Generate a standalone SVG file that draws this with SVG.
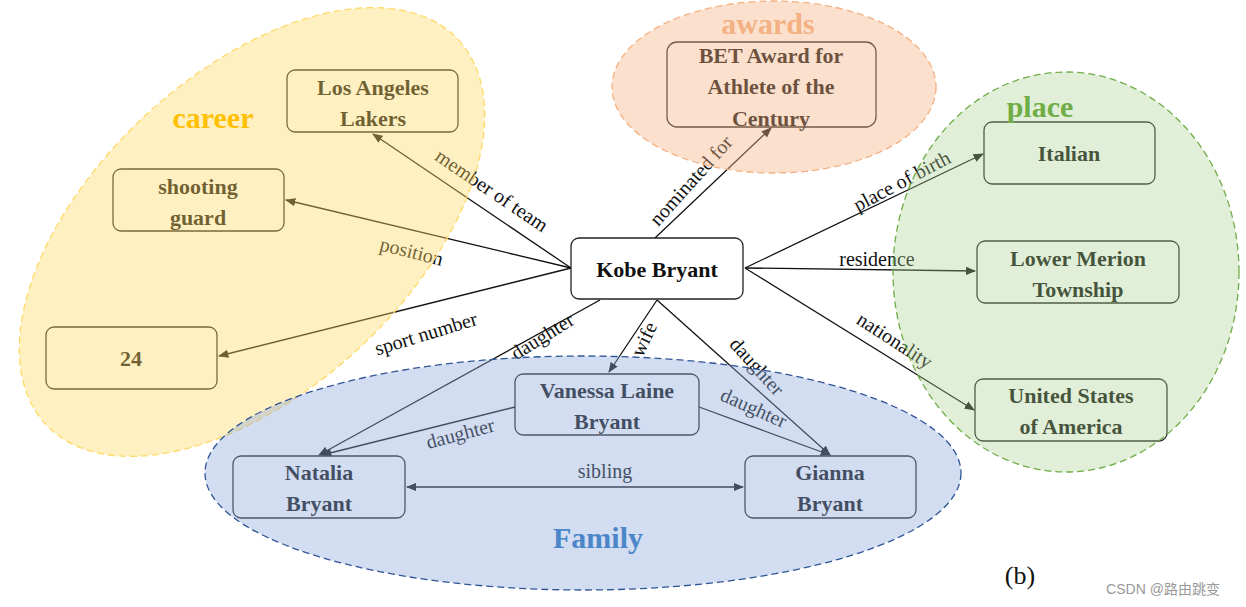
<svg xmlns="http://www.w3.org/2000/svg" width="1246" height="607" viewBox="0 0 1246 607">
<style>
text{font-family:"Liberation Serif","Times New Roman",serif}
.n rect{fill:#fff;stroke:#222;stroke-width:1.3}
.n text{font-size:22px;font-weight:bold;text-anchor:middle;fill:#111}
.e line{stroke:#111;stroke-width:1.3;marker-end:url(#a)}
.l{font-size:20px;fill:#111;text-anchor:middle}
.g{stroke-dasharray:7 4;stroke-width:1.3}
.t{font-size:30px;font-weight:bold;text-anchor:middle}
</style>
<defs><marker id="a" viewBox="0 0 10 10" refX="9" refY="5" markerWidth="8" markerHeight="8" orient="auto-start-reverse"><path d="M0,1L10,5L0,9z" fill="#111"/></marker></defs>
<rect width="1246" height="607" fill="#fff"/>
<g id="connectors" class="e">
<line x1="571" y1="268" x2="373" y2="134"/>
<line x1="571" y1="268" x2="286" y2="200"/>
<line x1="571" y1="268" x2="219" y2="356"/>
<line x1="655" y1="238" x2="771" y2="128"/>
<line x1="745" y1="268" x2="983" y2="154"/>
<line x1="745" y1="268" x2="975" y2="271"/>
<line x1="745" y1="268" x2="974" y2="410"/>
<line x1="657" y1="300" x2="609" y2="372"/>
<line x1="657" y1="300" x2="830" y2="455"/>
<line x1="600" y1="300" x2="319" y2="455"/>
<line x1="515" y1="407" x2="322" y2="455"/>
<line x1="699" y1="407" x2="830" y2="455"/>
<line x1="407" y1="487" x2="743" y2="487" style="marker-start:url(#a)"/>
</g>
<g id="edge-labels" class="l">
<text transform="translate(488,196) rotate(34)">member of team</text>
<text transform="translate(410,258) rotate(14)">position</text>
<text transform="translate(428,340) rotate(-17)">sport number</text>
<text transform="translate(696,185) rotate(-48)">nominated for</text>
<text transform="translate(905,187) rotate(-28)">place of birth</text>
<text x="877" y="266">residence</text>
<text transform="translate(891,346) rotate(33)">nationality</text>
<text transform="translate(546,342) rotate(-32)">daughter</text>
<text transform="translate(650,342) rotate(-65)">wife</text>
<text transform="translate(752,371) rotate(48)">daughter</text>
<text transform="translate(751,414) rotate(24)">daughter</text>
<text transform="translate(462,440) rotate(-15)">daughter</text>
<text x="605" y="478">sibling</text>
</g>
<g class="n">
<g id="lakers"><rect x="287" y="70" width="171" height="62" rx="8"/><text x="373" y="95">Los Angeles</text><text x="373" y="126">Lakers</text></g>
<g id="shooting"><rect x="113" y="169" width="171" height="62" rx="8"/><text x="198" y="194">shooting</text><text x="198" y="225">guard</text></g>
<g id="n24"><rect x="46" y="327" width="171" height="62" rx="8"/><text x="131" y="366">24</text></g>
<g id="bet"><rect x="667" y="42" width="209" height="85" rx="10"/><text x="771" y="63">BET Award for</text><text x="771" y="94">Athlete of the</text><text x="771" y="126">Century</text></g>
<g id="kobe"><rect x="571" y="238" width="172" height="61" rx="8"/><text x="657" y="277">Kobe Bryant</text></g>
<g id="italian"><rect x="984" y="122" width="171" height="62" rx="8"/><text x="1069" y="161">Italian</text></g>
<g id="merion"><rect x="977" y="241" width="202" height="62" rx="8"/><text x="1078" y="266">Lower Merion</text><text x="1078" y="297">Township</text></g>
<g id="usa"><rect x="975" y="379" width="192" height="62" rx="8"/><text x="1071" y="403">United States</text><text x="1071" y="434">of America</text></g>
<g id="vanessa"><rect x="515" y="374" width="184" height="61" rx="8"/><text x="607" y="398">Vanessa Laine</text><text x="607" y="429">Bryant</text></g>
<g id="natalia"><rect x="233" y="456" width="172" height="62" rx="8"/><text x="319" y="480">Natalia</text><text x="319" y="511">Bryant</text></g>
<g id="gianna"><rect x="745" y="456" width="171" height="62" rx="8"/><text x="830" y="480">Gianna</text><text x="830" y="511">Bryant</text></g>
</g>
<g id="groups">
<ellipse class="g" cx="252" cy="232" rx="282" ry="158" transform="rotate(-43 252 232)" fill="#FFD966" fill-opacity="0.4" stroke="#FFD966"/>
<ellipse class="g" cx="774" cy="87" rx="162" ry="86" fill="#F4B183" fill-opacity="0.4" stroke="#F4B183"/>
<ellipse class="g" cx="1066" cy="272" rx="173" ry="200" fill="#A9D18E" fill-opacity="0.35" stroke="#70AD47"/>
<ellipse class="g" cx="583" cy="473" rx="378" ry="117" fill="#8FAADC" fill-opacity="0.4" stroke="#2F5597"/>
<text class="t" x="213" y="128" fill="#FFC000">career</text>
<text class="t" x="768" y="34" fill="#F4B183">awards</text>
<text class="t" x="1040" y="117" fill="#70AD47">place</text>
<text class="t" x="598" y="548" fill="#4A86C8">Family</text>
</g>
<text x="1020" y="584" font-size="26" text-anchor="middle" fill="#111">(b)</text>
<text x="1163" y="594" font-size="14" text-anchor="middle" fill="#999" style="font-family:'Liberation Sans','Noto Sans CJK SC',sans-serif">CSDN @路由跳变</text>
</svg>
